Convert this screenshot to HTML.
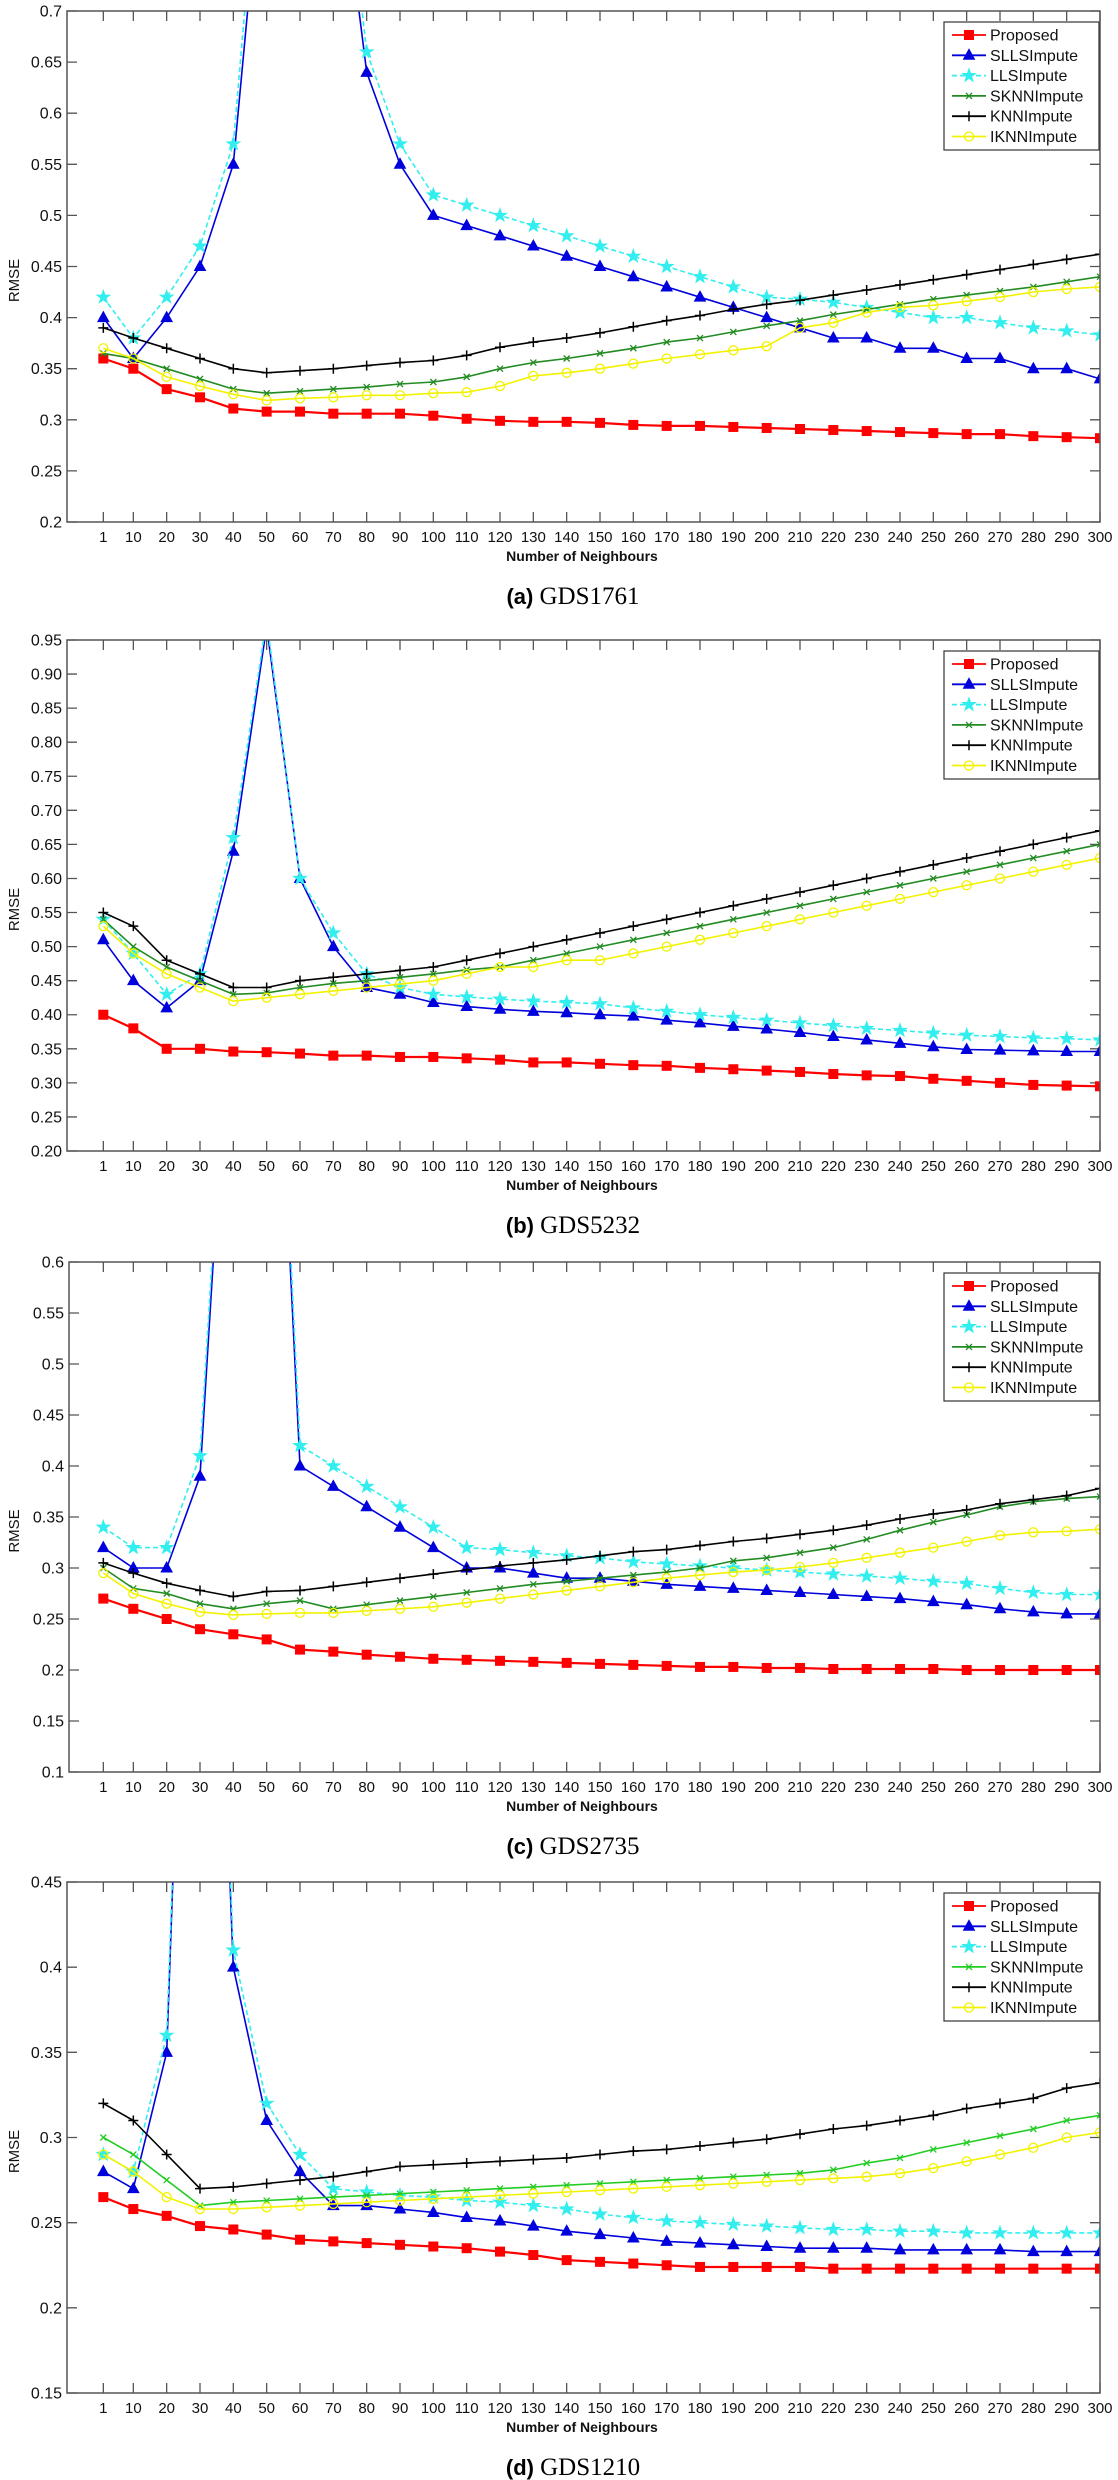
<!DOCTYPE html>
<html><head><meta charset="utf-8">
<style>
html,body{margin:0;padding:0;background:#fff;}
svg{display:block;}
text{font-family:"Liberation Sans",sans-serif;}
</style></head>
<body>
<svg id="fig" width="1118" height="2480" viewBox="0 0 1118 2480" xmlns="http://www.w3.org/2000/svg"></svg>
<script>
const xs = [1,10,20,30,40,50,60,70,80,90,100,110,120,130,140,150,160,170,180,190,200,210,220,230,240,250,260,270,280,290,300];

// Panel (a) GDS1761
const aProposed = [0.36,0.35,0.33,0.322,0.311,0.308,0.308,0.306,0.306,0.306,0.304,0.301,0.299,0.298,0.298,0.297,0.295,0.294,0.294,0.293,0.292,0.291,0.29,0.289,0.288,0.287,0.286,0.286,0.284,0.283,0.282];
const aSLLS = [0.40,0.36,0.40,0.45,0.55,0.9,1.0,0.9,0.64,0.55,0.50,0.49,0.48,0.47,0.46,0.45,0.44,0.43,0.42,0.41,0.40,0.39,0.38,0.38,0.37,0.37,0.36,0.36,0.35,0.35,0.34];
const aLLS = [0.42,0.38,0.42,0.47,0.57,0.95,1.05,0.95,0.66,0.57,0.52,0.51,0.50,0.49,0.48,0.47,0.46,0.45,0.44,0.43,0.42,0.418,0.415,0.41,0.405,0.40,0.40,0.395,0.39,0.387,0.383];
const aSKNN = [0.365,0.36,0.35,0.34,0.33,0.326,0.328,0.330,0.332,0.335,0.337,0.342,0.350,0.356,0.360,0.365,0.370,0.376,0.380,0.386,0.392,0.397,0.403,0.408,0.413,0.418,0.422,0.426,0.430,0.435,0.440];
const aKNN = [0.39,0.38,0.37,0.36,0.35,0.346,0.348,0.35,0.353,0.356,0.358,0.363,0.371,0.376,0.380,0.385,0.391,0.397,0.402,0.408,0.413,0.417,0.422,0.427,0.432,0.437,0.442,0.447,0.452,0.457,0.462];
const aIKNN = [0.37,0.36,0.342,0.333,0.325,0.319,0.321,0.322,0.324,0.324,0.326,0.327,0.333,0.343,0.346,0.350,0.355,0.360,0.364,0.368,0.372,0.390,0.395,0.405,0.410,0.412,0.416,0.420,0.425,0.428,0.430];
const aTicks = ["0.2","0.25","0.3","0.35","0.4","0.45","0.5","0.55","0.6","0.65","0.7"];

// Panel (b) GDS5232
const bProposed = [0.40,0.38,0.35,0.35,0.346,0.345,0.343,0.34,0.34,0.338,0.338,0.336,0.334,0.33,0.33,0.328,0.326,0.325,0.322,0.32,0.318,0.316,0.313,0.311,0.31,0.306,0.303,0.3,0.297,0.296,0.295];
const bSLLS = [0.51,0.45,0.41,0.45,0.64,0.97,0.60,0.50,0.44,0.43,0.418,0.412,0.408,0.405,0.403,0.40,0.398,0.392,0.388,0.383,0.379,0.374,0.368,0.363,0.358,0.353,0.349,0.348,0.347,0.346,0.346];
const bLLS = [0.54,0.49,0.43,0.46,0.66,0.98,0.60,0.52,0.46,0.44,0.43,0.426,0.423,0.42,0.418,0.416,0.41,0.405,0.40,0.396,0.392,0.388,0.384,0.38,0.377,0.373,0.37,0.368,0.366,0.365,0.363];
const bSKNN = [0.54,0.50,0.47,0.45,0.43,0.432,0.44,0.446,0.45,0.455,0.46,0.466,0.47,0.48,0.49,0.50,0.51,0.52,0.53,0.54,0.55,0.56,0.57,0.58,0.59,0.60,0.61,0.62,0.63,0.64,0.65];
const bKNN = [0.55,0.53,0.48,0.46,0.44,0.44,0.45,0.455,0.46,0.465,0.47,0.48,0.49,0.50,0.51,0.52,0.53,0.54,0.55,0.56,0.57,0.58,0.59,0.60,0.61,0.62,0.63,0.64,0.65,0.66,0.67];
const bIKNN = [0.53,0.49,0.46,0.44,0.42,0.425,0.43,0.435,0.44,0.445,0.45,0.46,0.47,0.47,0.48,0.48,0.49,0.50,0.51,0.52,0.53,0.54,0.55,0.56,0.57,0.58,0.59,0.60,0.61,0.62,0.63];
const bTicks = ["0.20","0.25","0.30","0.35","0.40","0.45","0.50","0.55","0.60","0.65","0.70","0.75","0.80","0.85","0.90","0.95"];

// Panel (c) GDS2735
const cProposed = [0.27,0.26,0.25,0.24,0.235,0.23,0.22,0.218,0.215,0.213,0.211,0.21,0.209,0.208,0.207,0.206,0.205,0.204,0.203,0.203,0.202,0.202,0.201,0.201,0.201,0.201,0.2,0.2,0.2,0.2,0.2];
const cSLLS = [0.32,0.30,0.30,0.39,0.92,1.07,0.40,0.38,0.36,0.34,0.32,0.30,0.30,0.295,0.29,0.29,0.287,0.284,0.282,0.28,0.278,0.276,0.274,0.272,0.27,0.267,0.264,0.26,0.257,0.255,0.255];
const cLLS = [0.34,0.32,0.32,0.41,0.94,1.09,0.42,0.40,0.38,0.36,0.34,0.32,0.318,0.315,0.312,0.31,0.306,0.304,0.302,0.30,0.298,0.296,0.294,0.292,0.29,0.287,0.285,0.28,0.276,0.274,0.274];
const cSKNN = [0.30,0.28,0.275,0.265,0.26,0.265,0.268,0.26,0.264,0.268,0.272,0.276,0.28,0.284,0.287,0.29,0.293,0.296,0.30,0.307,0.31,0.315,0.32,0.328,0.337,0.345,0.352,0.36,0.365,0.368,0.37];
const cKNN = [0.305,0.295,0.285,0.278,0.272,0.277,0.278,0.282,0.286,0.29,0.294,0.298,0.302,0.305,0.308,0.312,0.316,0.318,0.322,0.326,0.329,0.333,0.337,0.342,0.348,0.353,0.357,0.363,0.367,0.371,0.378];
const cIKNN = [0.295,0.275,0.265,0.257,0.254,0.255,0.256,0.256,0.258,0.26,0.262,0.266,0.27,0.274,0.278,0.282,0.286,0.29,0.293,0.296,0.298,0.301,0.305,0.31,0.315,0.32,0.326,0.332,0.335,0.336,0.338];
const cTicks = ["0.1","0.15","0.2","0.25","0.3","0.35","0.4","0.45","0.5","0.55","0.6"];

// Panel (d) GDS1210
const dProposed = [0.265,0.258,0.254,0.248,0.246,0.243,0.24,0.239,0.238,0.237,0.236,0.235,0.233,0.231,0.228,0.227,0.226,0.225,0.224,0.224,0.224,0.224,0.223,0.223,0.223,0.223,0.223,0.223,0.223,0.223,0.223];
const dSLLS = [0.28,0.27,0.35,0.9,0.40,0.31,0.28,0.26,0.26,0.258,0.256,0.253,0.251,0.248,0.245,0.243,0.241,0.239,0.238,0.237,0.236,0.235,0.235,0.235,0.234,0.234,0.234,0.234,0.233,0.233,0.233];
const dLLS = [0.29,0.28,0.36,0.9,0.41,0.32,0.29,0.27,0.268,0.266,0.265,0.263,0.262,0.26,0.258,0.255,0.253,0.251,0.25,0.249,0.248,0.247,0.246,0.246,0.245,0.245,0.244,0.244,0.244,0.244,0.244];
const dSKNN = [0.30,0.29,0.275,0.26,0.262,0.263,0.264,0.265,0.266,0.267,0.268,0.269,0.27,0.271,0.272,0.273,0.274,0.275,0.276,0.277,0.278,0.279,0.281,0.285,0.288,0.293,0.297,0.301,0.305,0.31,0.313];
const dKNN = [0.32,0.31,0.29,0.27,0.271,0.273,0.275,0.277,0.28,0.283,0.284,0.285,0.286,0.287,0.288,0.29,0.292,0.293,0.295,0.297,0.299,0.302,0.305,0.307,0.31,0.313,0.317,0.32,0.323,0.329,0.332];
const dIKNN = [0.29,0.28,0.265,0.258,0.258,0.259,0.26,0.261,0.262,0.263,0.264,0.265,0.266,0.267,0.268,0.269,0.27,0.271,0.272,0.273,0.274,0.275,0.276,0.277,0.279,0.282,0.286,0.29,0.294,0.3,0.303];
const dTicks = ["0.15","0.2","0.25","0.3","0.35","0.4","0.45"];

const seriesNames = ["Proposed","SLLSImpute","LLSImpute","SKNNImpute","KNNImpute","IKNNImpute"];

const NS = "http://www.w3.org/2000/svg";
const svg = document.getElementById("fig");
function mk(tag, attrs, parent){
  const e = document.createElementNS(NS, tag);
  for (const k in attrs) e.setAttribute(k, attrs[k]);
  (parent||svg).appendChild(e);
  return e;
}

const panels = [
  {id:"a", top:11, bottom:522, left:67, ymin:0.2, ymax:0.7, ticks:aTicks, data:[aProposed,aSLLS,aLLS,aSKNN,aKNN,aIKNN], green:"#228b22", cap:"GDS1761"},
  {id:"b", top:640, bottom:1151, left:67, ymin:0.2, ymax:0.95, ticks:bTicks, data:[bProposed,bSLLS,bLLS,bSKNN,bKNN,bIKNN], green:"#228b22", cap:"GDS5232"},
  {id:"c", top:1262, bottom:1772, left:69, ymin:0.1, ymax:0.6, ticks:cTicks, data:[cProposed,cSLLS,cLLS,cSKNN,cKNN,cIKNN], green:"#228b22", cap:"GDS2735"},
  {id:"d", top:1882, bottom:2393, left:67, ymin:0.15, ymax:0.45, ticks:dTicks, data:[dProposed,dSLLS,dLLS,dSKNN,dKNN,dIKNN], green:"#22cc22", cap:"GDS1210"}
];
const RIGHT = 1100;

function marker(g, type, x, y, color){
  let m;
  if (type===0){ m = mk("rect",{x:x-4.5,y:y-4.5,width:9,height:9,fill:color,stroke:color},g); }
  else if (type===1){ m = mk("polygon",{points:`${x},${y-6} ${x-5.5},${y+4} ${x+5.5},${y+4}`,fill:color,stroke:color},g); }
  else if (type===2){
    let p=[]; for(let i=0;i<10;i++){const r=i%2?2.6:6.5;const a=-Math.PI/2+i*Math.PI/5;p.push((x+r*Math.cos(a)).toFixed(1)+","+(y+r*Math.sin(a)).toFixed(1));}
    m = mk("polygon",{points:p.join(" "),fill:color,stroke:color,"stroke-width":1.2},g);
  }
  else if (type===3){ m = mk("path",{d:`M${x-3},${y-3}L${x+3},${y+3}M${x-3},${y+3}L${x+3},${y-3}`,stroke:color,"stroke-width":1.3,fill:"none"},g); }
  else if (type===4){ m = mk("path",{d:`M${x-5},${y}L${x+5},${y}M${x},${y-5}L${x},${y+5}`,stroke:color,"stroke-width":1.5,fill:"none"},g); }
  else { m = mk("circle",{cx:x,cy:y,r:4.5,fill:"none",stroke:color,"stroke-width":1.3},g); }
  return m;
}

panels.forEach(P=>{
  const g = mk("g",{});
  
  
  const L=P.left, T=P.top, B=P.bottom;
  const xScale = v => 100 + v*(RIGHT-100)/300;
  const yScale = v => B - (v-P.ymin)/(P.ymax-P.ymin)*(B-T);
  const colors = ["#ff0000","#0000dd","#33eeee",P.green,"#000000","#f2f200"];

  const cp = mk("clipPath",{id:"clip"+P.id},g);
  mk("rect",{x:L,y:T,width:RIGHT-L,height:B-T},cp);

  const nT = P.ticks.length;
  P.ticks.forEach((lab,i)=>{
    const v = P.ymin + i*(P.ymax-P.ymin)/(nT-1);
    const y = yScale(v);
    const t = mk("path",{d:`M${L},${y}H${L+10}M${RIGHT},${y}H${RIGHT-10}`,stroke:"#555","stroke-width":1.3},g);
    
    
    const tx = mk("text",{x:L-5,y:y+5.5,"text-anchor":"end","font-size":16,fill:"#111"},g);
    tx.textContent = lab;
    
    
  });
  xs.forEach(v=>{
    const x = xScale(v);
    const t = mk("path",{d:`M${x},${B}V${B-10}M${x},${T}V${T+10}`,stroke:"#555","stroke-width":1.3},g);
    
    
    const tx = mk("text",{x:x,y:B+20,"text-anchor":"middle","font-size":15,fill:"#111"},g);
    tx.textContent = String(v);
    
    
  });

  const sg = mk("g",{"clip-path":`url(#clip${P.id})`},g);
  P.data.forEach((arr,si)=>{
    const pts = arr.map((v,i)=>xScale(xs[i]).toFixed(1)+","+yScale(v).toFixed(1)).join(" ");
    const attrs = {points:pts,fill:"none",stroke:colors[si],"stroke-width":si===0?2.2:1.6,"stroke-linejoin":"round"};
    if (si===2) attrs["stroke-dasharray"]="5,3";
    const pl = mk("polyline",attrs,sg);
    
    
    arr.forEach((v,i)=>{
      const m = marker(sg, si, xScale(xs[i]), yScale(v), colors[si]);
      
      
    });
  });

  const fr = mk("rect",{x:L,y:T,width:RIGHT-L,height:B-T,fill:"none",stroke:"#555","stroke-width":1.5},g);
  
  

  const lg = mk("g",{},g);
  
  
  mk("rect",{x:944,y:T+11,width:RIGHT-944-1,height:128,fill:"#fff",stroke:"#333","stroke-width":1.2},lg);
  seriesNames.forEach((n,si)=>{
    const y = T+24+si*20.3;
    const e = mk("g",{},lg);
    
    
    const ln = {x1:952,y1:y,x2:986,y2:y,stroke:colors[si],"stroke-width":1.8};
    if (si===2) ln["stroke-dasharray"]="5,3";
    mk("line",ln,e);
    marker(e, si, 969, y, colors[si]);
    const t = mk("text",{x:990,y:y+5.5,"font-size":16,fill:"#111"},e);
    t.textContent = n;
  });

  const yl = mk("text",{x:0,y:0,transform:`translate(19,${(T+B)/2+14}) rotate(-90)`,"text-anchor":"middle","font-size":15,fill:"#111"},g);
  yl.textContent = "RMSE";
  
  
  const xl = mk("text",{x:582,y:B+39,"text-anchor":"middle","font-size":14,"font-weight":"bold",fill:"#111"},g);
  xl.textContent = "Number of Neighbours";
  
  

  const cap = mk("text",{x:573,y:B+82,"text-anchor":"middle",fill:"#000"},g);
  
  
  const s1 = mk("tspan",{"font-size":22,"font-weight":"bold","font-family":"Liberation Sans, sans-serif"},cap);
  s1.textContent = "("+P.id+") ";
  const s2 = mk("tspan",{"font-size":25,"font-family":"Liberation Serif, serif"},cap);
  s2.textContent = P.cap;
});
</script>
</body></html>
